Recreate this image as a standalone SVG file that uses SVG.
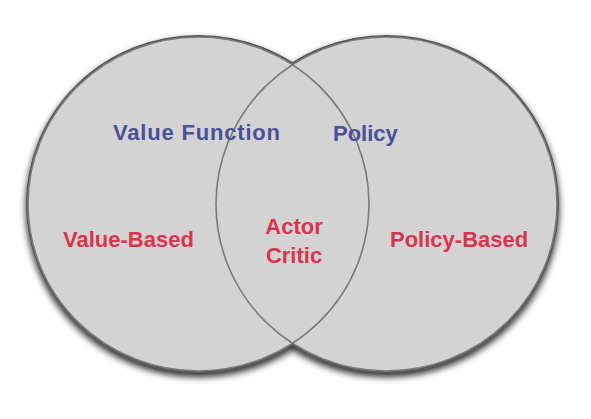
<svg xmlns="http://www.w3.org/2000/svg" width="591" height="419" viewBox="0 0 591 419">
  <defs>
    <filter id="shadow" x="-20%" y="-20%" width="140%" height="140%">
      <feGaussianBlur in="SourceAlpha" stdDeviation="3.5"/>
      <feOffset dx="0" dy="4" result="b"/>
      <feComponentTransfer><feFuncA type="linear" slope="0.85"/></feComponentTransfer>
      <feMerge><feMergeNode/><feMergeNode in="SourceGraphic"/></feMerge>
    </filter>
  </defs>
  <style>
    .outer { fill: #d3d3d3; stroke: #555555; stroke-width: 4; }
    .fill { fill: #d3d3d3; stroke: none; }
    .thin { fill: none; stroke: #7a7a7a; stroke-width: 1.6; }
    .blue { font-family: "Liberation Sans", Arial, sans-serif; font-weight: bold; font-size: 22px; fill: #4d4f98; }
    .red { font-family: "Liberation Sans", Arial, sans-serif; font-weight: bold; font-size: 22px; fill: #d9344f; }
  </style>
  <rect width="591" height="419" fill="#ffffff"/>
  <g id="shapes">
    <g filter="url(#shadow)">
      <ellipse class="outer" cx="198.5" cy="204" rx="170.5" ry="167"/>
      <ellipse class="outer" cx="386.5" cy="204" rx="170.5" ry="167"/>
    </g>
    <ellipse class="fill" cx="198.5" cy="204" rx="170.5" ry="167"/>
    <ellipse class="fill" cx="386.5" cy="204" rx="170.5" ry="167"/>
  </g>
  <g id="connectors">
    <ellipse id="value-circle" class="thin" cx="198.5" cy="204" rx="170.5" ry="167"/>
    <ellipse id="policy-circle" class="thin" cx="386.5" cy="204" rx="170.5" ry="167"/>
  </g>
  <g id="value-function"><text class="blue" x="113" y="140" textLength="167" lengthAdjust="spacing">Value Function</text></g>
  <g id="policy"><text class="blue" x="333" y="141">Policy</text></g>
  <g id="value-based"><text class="red" x="63" y="247">Value-Based</text></g>
  <g id="actor-critic">
    <text class="red" x="294" y="234" text-anchor="middle">Actor</text>
    <text class="red" x="294" y="263" text-anchor="middle">Critic</text>
  </g>
  <g id="policy-based"><text class="red" x="390" y="247">Policy-Based</text></g>
</svg>
